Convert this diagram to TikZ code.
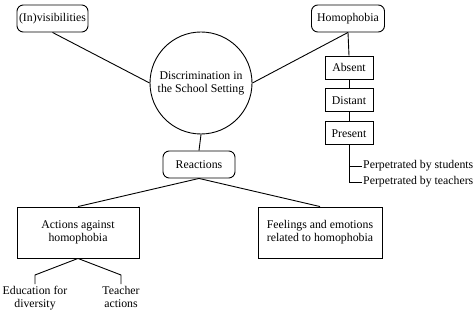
\documentclass[tikz,border=0pt]{standalone}
\usepackage{fontspec}
\setmainfont{Liberation Serif}
\usetikzlibrary{positioning,calc}

\begin{document}
\begin{tikzpicture}[x=1pt, y=-1pt, node distance=9pt]

\tikzset{
  rbox/.style={
    rectangle, rounded corners=2.2mm,
    draw, line width=0.9pt, align=center,
    minimum height=27pt, inner sep=2pt, font=\fontsize{11.8}{13}\selectfont
  },
  sbox/.style={
    rectangle, draw, line width=0.9pt, align=center,
    minimum height=23pt, minimum width=48pt,
    inner sep=2pt, font=\fontsize{11.8}{13}\selectfont
  },
  bigbox/.style={
    rectangle, draw, line width=0.9pt, align=center,
    minimum height=51pt, inner sep=2pt, font=\fontsize{11.8}{13}\selectfont
  },
  leaf/.style={align=center, inner sep=1pt, font=\fontsize{11.8}{13}\selectfont},
  link/.style={line width=0.9pt}
}

\useasboundingbox (0,0) rectangle (474,315);

% ==========================
% Centre and top row
% ==========================
\node[draw, circle, line width=0.9pt, minimum size=102pt, inner sep=0pt, align=center,
      font=\fontsize{11.8}{13}\selectfont] (disc) at (201,83)
  {Discrimination in\\the School Setting};
\node[rbox, minimum width=71pt] (invis) at (52.5,18.5) {(In)visibilities};
\node[rbox, minimum width=73pt] (homo) at (348,18.5) {Homophobia};

\draw[link] (invis.south) -- (disc.west);
\draw[link] (homo.south) -- (disc.east);

% ==========================
% Homophobia branch
% ==========================
\node[sbox] (absent) at (349,67.5) {Absent};
\node[sbox, below=of absent] (distant) {Distant};
\node[sbox, below=of distant] (present) {Present};

\node[leaf, anchor=west] (bystud) at (362,166) {Perpetrated by students};
\node[leaf, anchor=west] (byteach) at (362,182) {Perpetrated by teachers};

\draw[link] (homo.south) -- (absent.north);
\draw[link] (absent) -- (distant);
\draw[link] (distant) -- (present);
\draw[link] (present.south) |- (byteach.west);
\draw[link] (present.south |- bystud.west) -- (bystud.west);

% ==========================
% Reactions branch
% ==========================
\node[rbox, minimum width=72pt] (react) at (199,164.5) {Reactions};
\node[bigbox, minimum width=122pt] (actions) at (78,232.5) {Actions against\\homophobia};
\node[bigbox, minimum width=124pt] (feel) at (320,232.5) {Feelings and emotions\\related to homophobia};

\draw[link] (disc.south) -- (react.north);
\draw[link] (react.south) -- (actions.north);
\draw[link] (react.south) -- (feel.north);

\node[leaf, anchor=north] (edu) at (35,285) {Education for\\diversity};
\node[leaf, anchor=north] (teach) at (121,285) {Teacher\\actions};

\draw[link] (actions.south) -- ($(edu.north)+(0,-10)$) -- ($(edu.north)+(0,-1)$);
\draw[link] (actions.south) -- ($(teach.north)+(0,-10)$) -- ($(teach.north)+(0,-1)$);

\end{tikzpicture}
\end{document}
